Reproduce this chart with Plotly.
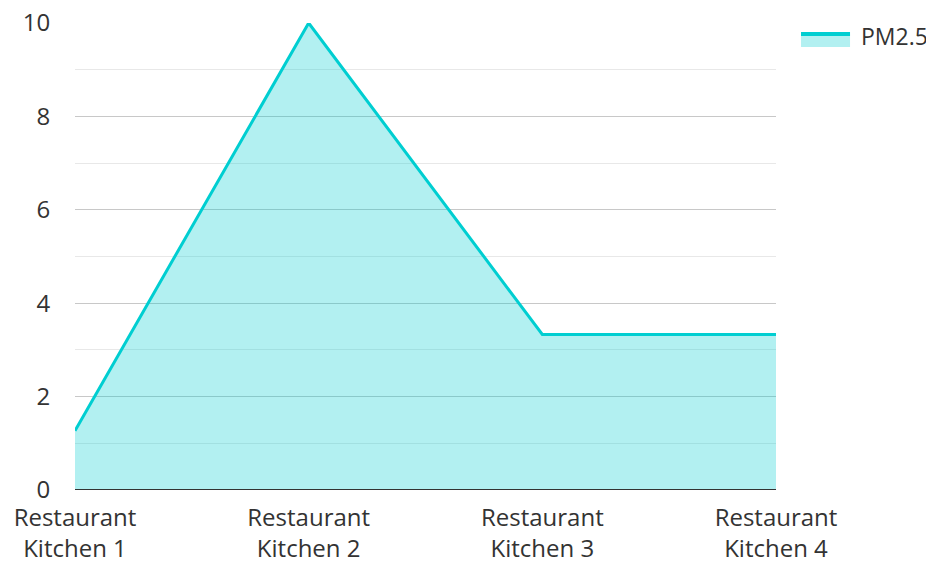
import plotly.graph_objects as go

categories = ["Restaurant Kitchen 1", "Restaurant Kitchen 2", "Restaurant Kitchen 3", "Restaurant Kitchen 4"]
pm25 = [1.27, 10.0, 3.33, 3.33]
y_ticks = [0, 2, 4, 6, 8, 10]
series_name = "PM2.5"

LINE = "#00CED1"
FILL = "rgba(0,206,209,0.3)"
TEXT = "#333333"

x_pos = list(range(len(categories)))
tick_text = [c.replace("Restaurant ", "Restaurant<br>") for c in categories]

fig = go.Figure()
fig.add_trace(go.Scatter(
    x=x_pos, y=pm25, name=series_name, mode="lines",
    line=dict(color=LINE, width=3),
    fill="tozeroy", fillcolor=FILL, showlegend=False, cliponaxis=False,
))

fig.update_layout(
    width=926, height=554,
    margin=dict(l=67, r=158, t=15, b=72),
    paper_bgcolor="white", plot_bgcolor="white",
    font=dict(family="Open Sans", size=24, color=TEXT),
    showlegend=False,
    xaxis=dict(
        range=[0, 3], tickvals=x_pos, ticktext=tick_text, automargin=False,
        showgrid=False, zeroline=False, showline=False,
        ticks="outside", ticklen=6, tickcolor="rgba(0,0,0,0)",
        tickfont=dict(size=24, color=TEXT), ticklabeloverflow="allow",
    ),
    yaxis=dict(
        range=[0, 10], tickvals=y_ticks, showgrid=True, gridcolor="#c8c8c8",
        gridwidth=1, zeroline=False, showline=False, automargin=False,
        ticks="outside", ticklen=19, tickcolor="rgba(0,0,0,0)",
        tickfont=dict(size=24, color=TEXT), ticklabeloverflow="allow",
        minor=dict(dtick=1, showgrid=True, gridcolor="#e8e8e8", gridwidth=1,
                   ticks=""),
    ),
)
fig.add_shape(type="line", xref="paper", yref="y", x0=0, x1=1, y0=0, y1=0,
              line=dict(color=TEXT, width=2))

# custom legend
fig.add_shape(type="rect", xref="paper", yref="paper",
              x0=1.0357, x1=1.1056, y0=0.9486, y1=0.9764,
              fillcolor=FILL, line=dict(width=0))
fig.add_shape(type="line", xref="paper", yref="paper",
              x0=1.0357, x1=1.1056, y0=0.9764, y1=0.9764,
              line=dict(color=LINE, width=4))
fig.add_annotation(xref="paper", yref="paper", x=1.1185, y=0.972,
                   xanchor="left", yanchor="middle", showarrow=False,
                   text=series_name, font=dict(size=23, color=TEXT))

fig.write_html("out.html")
